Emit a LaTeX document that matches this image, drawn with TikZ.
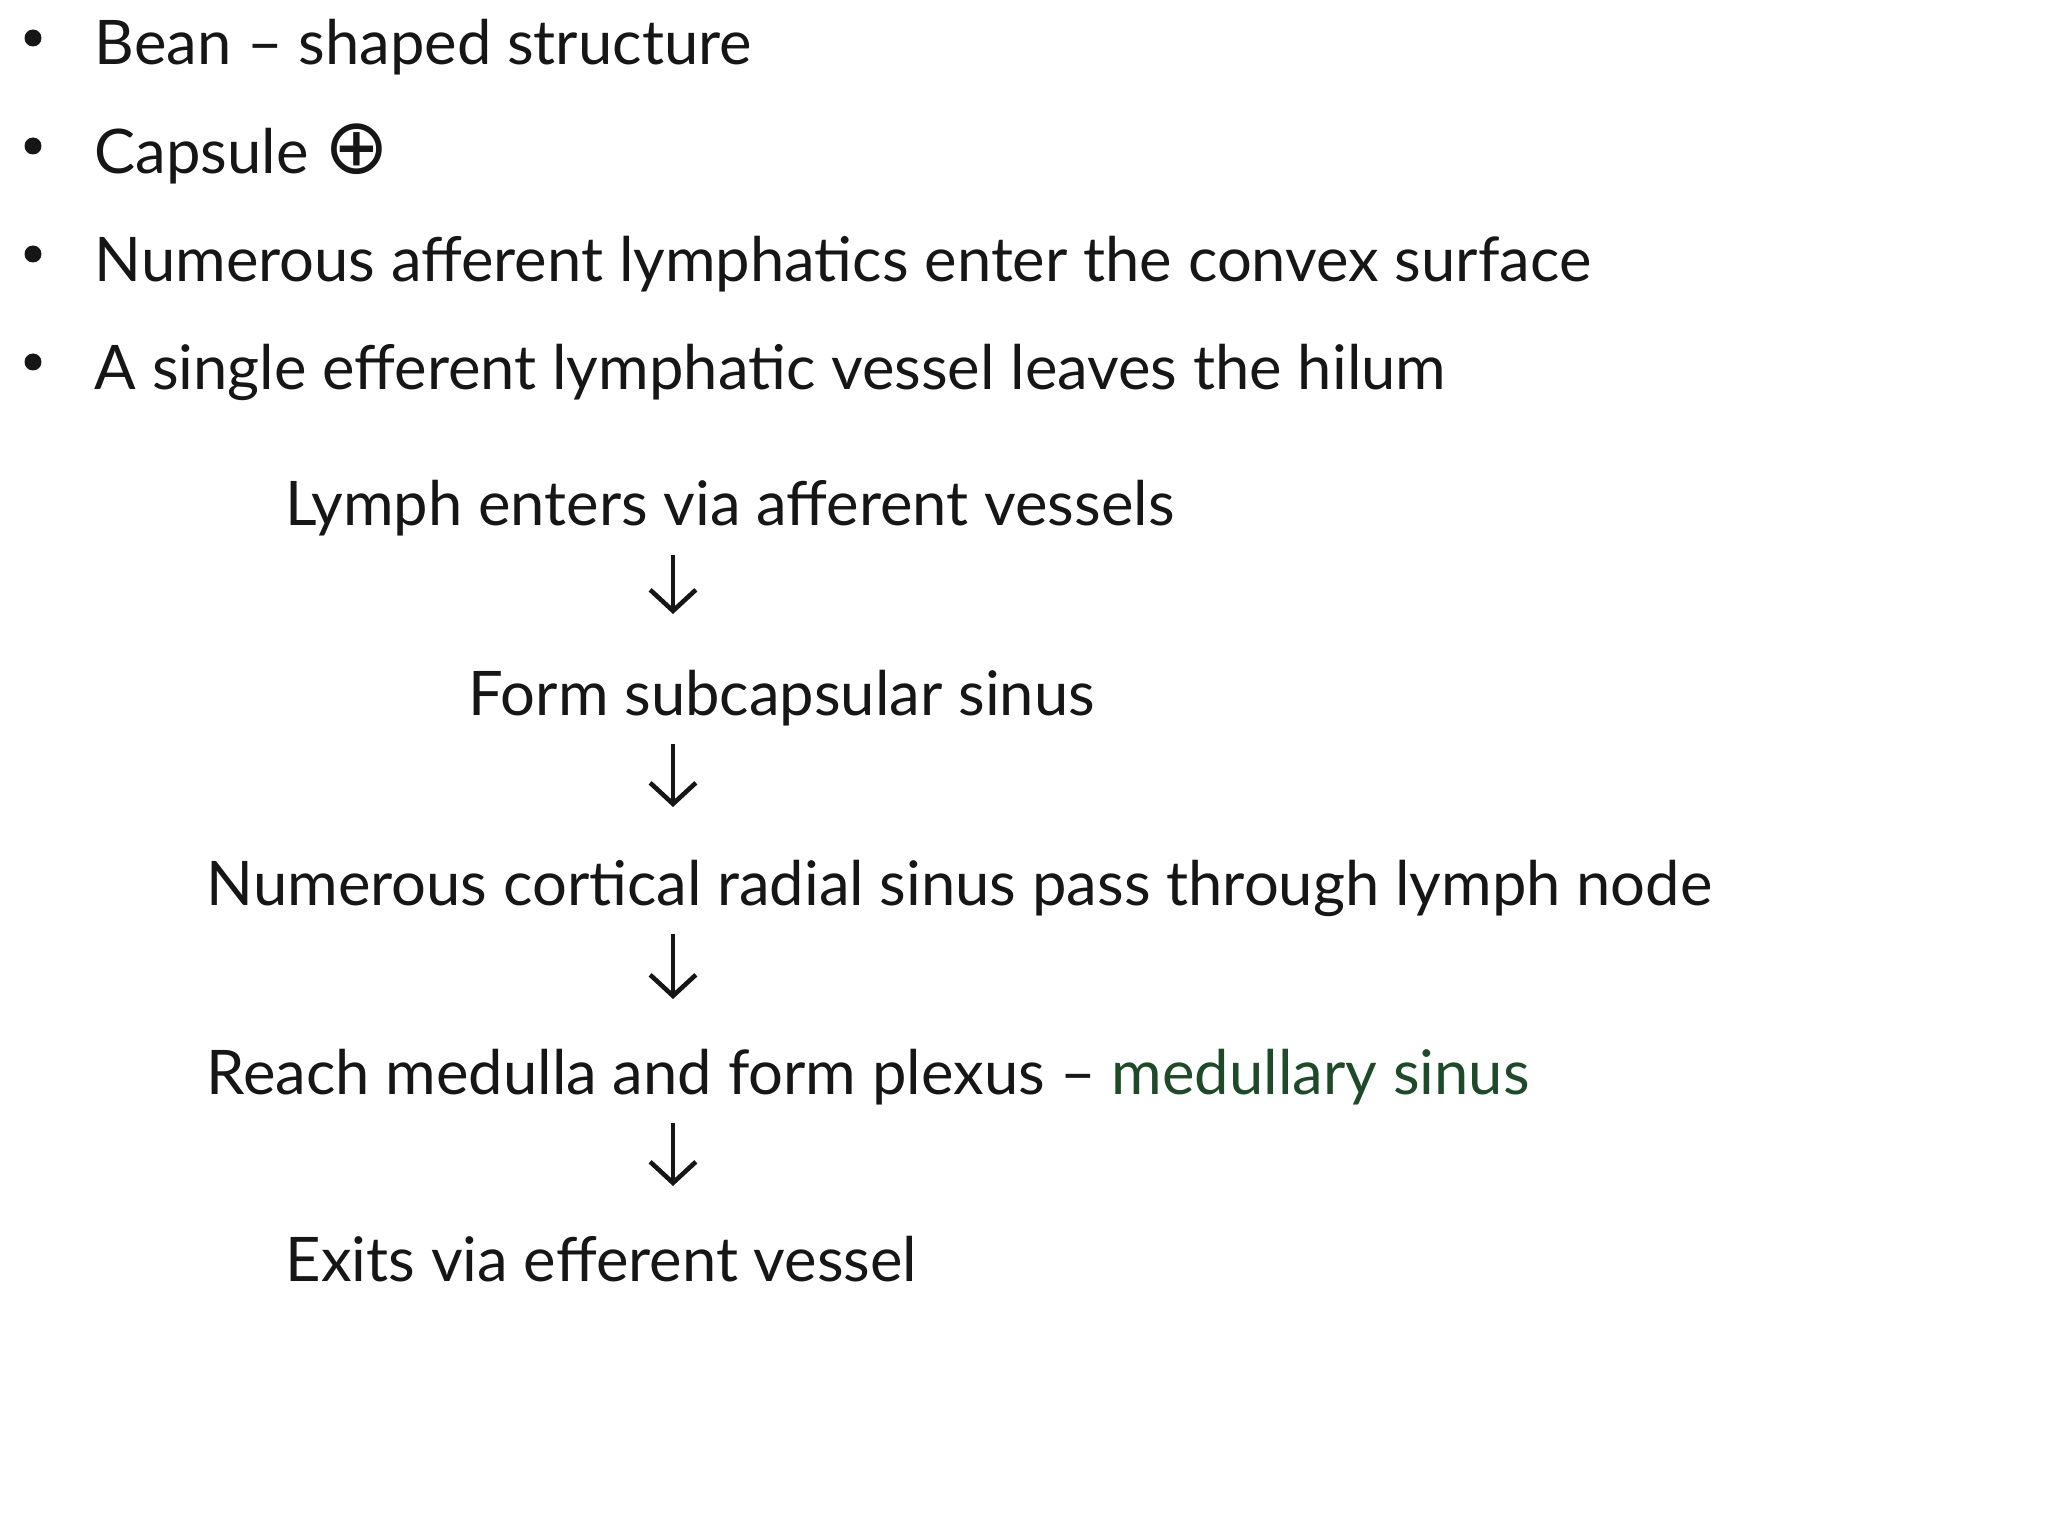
\documentclass[tikz,border=0pt]{standalone}
\usepackage{fontspec}
\setmainfont{Lato}
\newfontfamily\symfont{DejaVu Sans}
\usetikzlibrary{arrows.meta,calc}
\definecolor{ink}{HTML}{161616}
\definecolor{inkgreen}{HTML}{1E4A2A}
\tikzset{
  txt/.style={anchor=base west, inner sep=0pt, text=ink, font=\fontsize{17.5}{21}\selectfont},
  dot/.style={circle, fill=ink, inner sep=0pt, minimum size=0.17cm},
  flowarrow/.style={draw=ink, line width=1.3pt, -{Straight Barb[length=6pt,width=13pt,line width=1.3pt]}}
}
\begin{document}
\begin{tikzpicture}
\useasboundingbox[fill=white] (0,0) rectangle (20.48,-15.36);
% bullets
\node[dot] (d1) at (0.33,-0.38) {};
\node[dot] (d2) at (0.33,-1.46) {};
\node[dot] (d3) at (0.33,-2.54) {};
\node[dot] (d4) at (0.33,-3.62) {};
\node[txt] (b1) at (0.94,-0.65) {Bean – shaped structure};
\node[txt] (b2) at (0.94,-1.74) {Capsule {\symfont\fontsize{22}{24}\selectfont ⊕}};
\node[txt] (b3) at (0.94,-2.82) {Numerous afferent lymphatics enter the convex surface};
\node[txt] (b4) at (0.94,-3.90) {A single efferent lymphatic vessel leaves the hilum};
% flow
\coordinate (ax) at (6.73,0);
\node[txt] (f1) at (2.85,-5.26) {Lymph enters via afferent vessels};
\node[txt] (f2) at (4.68,-7.16) {Form subcapsular sinus};
\node[txt] (f3) at (2.06,-9.05) {Numerous cortical radial sinus pass through lymph node};
\node[txt] (f4) at (2.06,-10.94) {Reach medulla and form plexus – \textcolor{inkgreen}{medullary sinus}};
\node[txt] (f5) at (2.85,-12.81) {Exits via efferent vessel};
\draw[flowarrow] (ax |- 0,-5.55) -- (ax |- 0,-6.14);
\draw[flowarrow] (ax |- 0,-7.44) -- (ax |- 0,-8.07);
\draw[flowarrow] (ax |- 0,-9.34) -- (ax |- 0,-9.99);
\draw[flowarrow] (ax |- 0,-11.23) -- (ax |- 0,-11.86);
\end{tikzpicture}
\end{document}
